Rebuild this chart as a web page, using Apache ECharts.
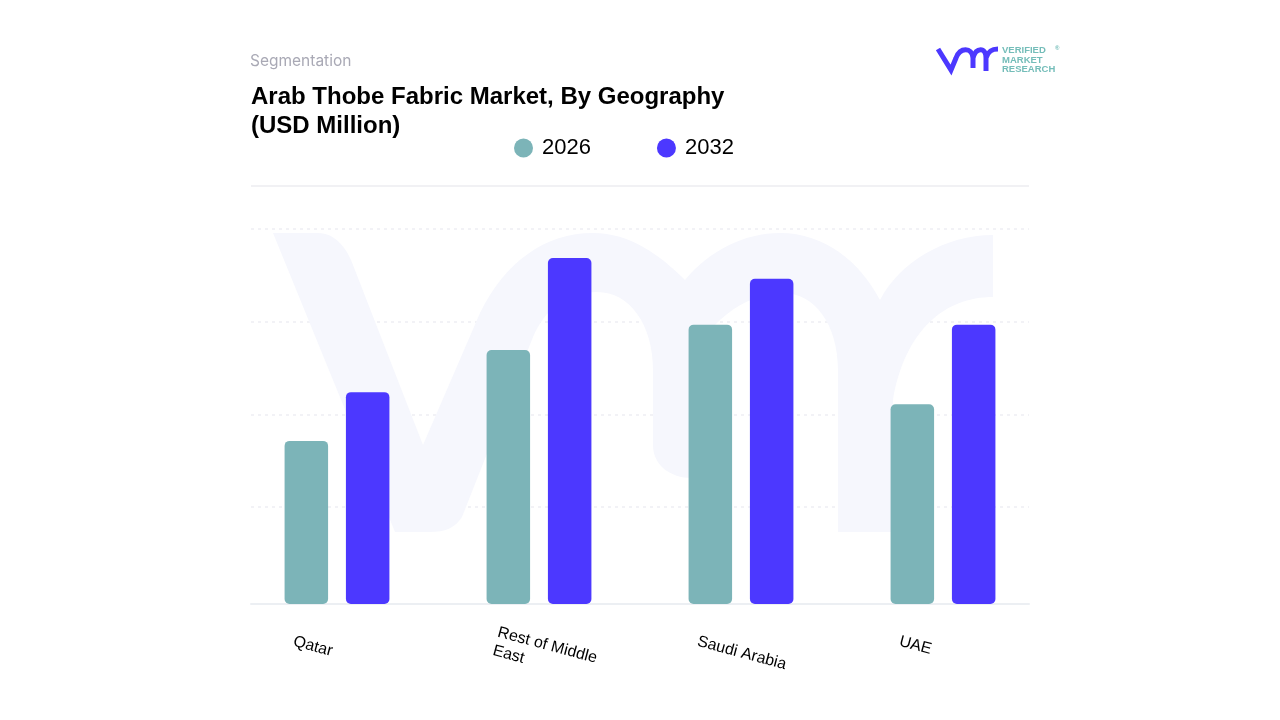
<!DOCTYPE html>
<html>
<head>
<meta charset="utf-8">
<title>Arab Thobe Fabric Market</title>
<script src="https://cdn.jsdelivr.net/npm/echarts@6/dist/echarts.min.js"></script>
<style>
	html, body { margin: 0; padding: 0; background: #fff; }
	#chart { width: 1280px; height: 720px; }
</style>
</head>
<body>
<div id="chart"></div>
<script>
const categories = ['Qatar', 'Rest of Middle\nEast', 'Saudi Arabia', 'UAE'];
const values2026 = [174, 271, 298, 213];
const values2032 = [226, 369, 347, 298];

const TEAL = '#7cb4b8';
const PURPLE = '#4c38ff';
const WATERMARK = '#f6f7fd';
const LOGO_TEXT = '#74bdb9';

const watermarkPath = 'M 273 233 L 318 233 C 335 233 347 248 353 265 L 423 445 L 480 313 C 505 262 545 233 593 233 C 630 233 660 255 685 280 C 710 250 745 233 780 233 C 825 233 860 262 880 300 C 900 262 945 235 993 235 L 993 297 C 945 297 905 330 893 400 L 893 532 L 838 532 L 838 370 C 838 325 815 293 783 293 C 745 293 700 325 692 370 L 692 478 C 670 478 653 465 653 445 L 653 370 C 653 325 630 292 597 292 C 565 292 545 310 533 337 L 462 517 C 455 528 445 532 430 532 L 395 532 Z';
const logoPath = 'M 938 49 L 951 70 L 956 58 C 960 47 972 47 973 58 L 973 68 M 973 58 C 976 47 986 47 986 58 L 986 71 M 986 58 C 988 51 992 49 998 49';

// draws a path in page pixels, graphic component has no path type
function drawPath(pathData, style, z) {
	return {
		type: 'custom', coordinateSystem: 'none', silent: true, z: z,
		data: [[0]],
		renderItem: function() {
			return { type: 'path', shape: { pathData: pathData }, style: style };
		}
	};
}

function logoText(text, left, top, size) {
	return {
		type: 'text', silent: true, left: left, top: top,
		style: { text: text, fontFamily: 'Liberation Sans', fontSize: size, fontWeight: 'bold', fill: LOGO_TEXT }
	};
}

let myChart = echarts.init(document.getElementById('chart'), '', { renderer: 'canvas' });

let option = {
	animation: false,
	backgroundColor: '#fff',
	title: [
		{
			text: 'Segmentation',
			left: 245, top: 48,
			textStyle: { fontFamily: 'Inter', fontSize: 15.5, fontWeight: 400, color: '#a9a9b5' }
		},
		{
			text: 'Arab Thobe Fabric Market, By Geography\n(USD Million)',
			left: 246, top: 78,
			textStyle: { fontFamily: 'Liberation Sans', fontSize: 24, fontWeight: 'bold', color: '#000', lineHeight: 29 }
		}
	],
	legend: {
		left: 509, top: 132,
		icon: 'circle',
		itemWidth: 19, itemHeight: 19, itemGap: 66,
		textStyle: { fontFamily: 'Liberation Sans', fontSize: 22, color: '#000', padding: [2, 0, 0, 4] },
		data: ['2026', '2032']
	},
	// first grid only carries the rules, second one carries the bars and labels
	grid: [
		{ left: 251, right: 251, top: 228.5, bottom: 120 },
		{ left: 236, right: 236, top: 229, bottom: 116 }
	],
	xAxis: [
		{
			type: 'category', gridIndex: 0, data: categories, offset: 4,
			axisLine: { onZero: false, lineStyle: { color: '#eceff3', width: 2 } },
			axisTick: { show: false }, axisLabel: { show: false }
		},
		{
			type: 'category', gridIndex: 1, data: categories,
			axisLine: { show: false }, axisTick: { show: false },
			axisLabel: {
				interval: 0, rotate: -15, margin: 49, align: 'left', verticalAlign: 'middle',
				padding: [0, 0, 0, -45],
				fontFamily: 'Liberation Sans', fontSize: 16, color: '#000', lineHeight: 19
			}
		}
	],
	yAxis: [
		{
			type: 'value', gridIndex: 0, min: 0, max: 400, interval: 100,
			axisLine: { show: false }, axisTick: { show: false }, axisLabel: { show: false },
			splitLine: { showMinLine: false, lineStyle: { color: '#eeeef3', type: [3, 4], width: 1.5 } }
		},
		{
			type: 'value', gridIndex: 1, min: 0, max: 400, interval: 100,
			axisLine: { show: false }, axisTick: { show: false }, axisLabel: { show: false },
			splitLine: { show: false }
		}
	],
	series: [
		{
			name: '2026', type: 'bar', xAxisIndex: 1, yAxisIndex: 1, z: 5,
			data: values2026, barWidth: 43.5, barGap: '41%',
			itemStyle: { color: TEAL, borderRadius: 5 }
		},
		{
			name: '2032', type: 'bar', xAxisIndex: 1, yAxisIndex: 1, z: 5,
			data: values2032, barWidth: 43.5, barGap: '41%',
			itemStyle: { color: PURPLE, borderRadius: 5 }
		},
		drawPath(watermarkPath, { fill: WATERMARK, stroke: null }, 0),
		drawPath(logoPath, { fill: null, stroke: PURPLE, lineWidth: 5 }, 5)
	],
	graphic: [
		// rule above the plot
		{
			type: 'line', silent: true,
			shape: { x1: 251, y1: 186, x2: 1029, y2: 186 },
			style: { stroke: '#f1f1f4', lineWidth: 2 }
		},
		logoText('VERIFIED', 1002, 45, 9.5),
		logoText('MARKET', 1002, 55, 9.5),
		logoText('RESEARCH', 1002, 64, 9.5),
		logoText('®', 1055, 45, 6)
	]
};
myChart.setOption(option);
</script>
</body>
</html>
